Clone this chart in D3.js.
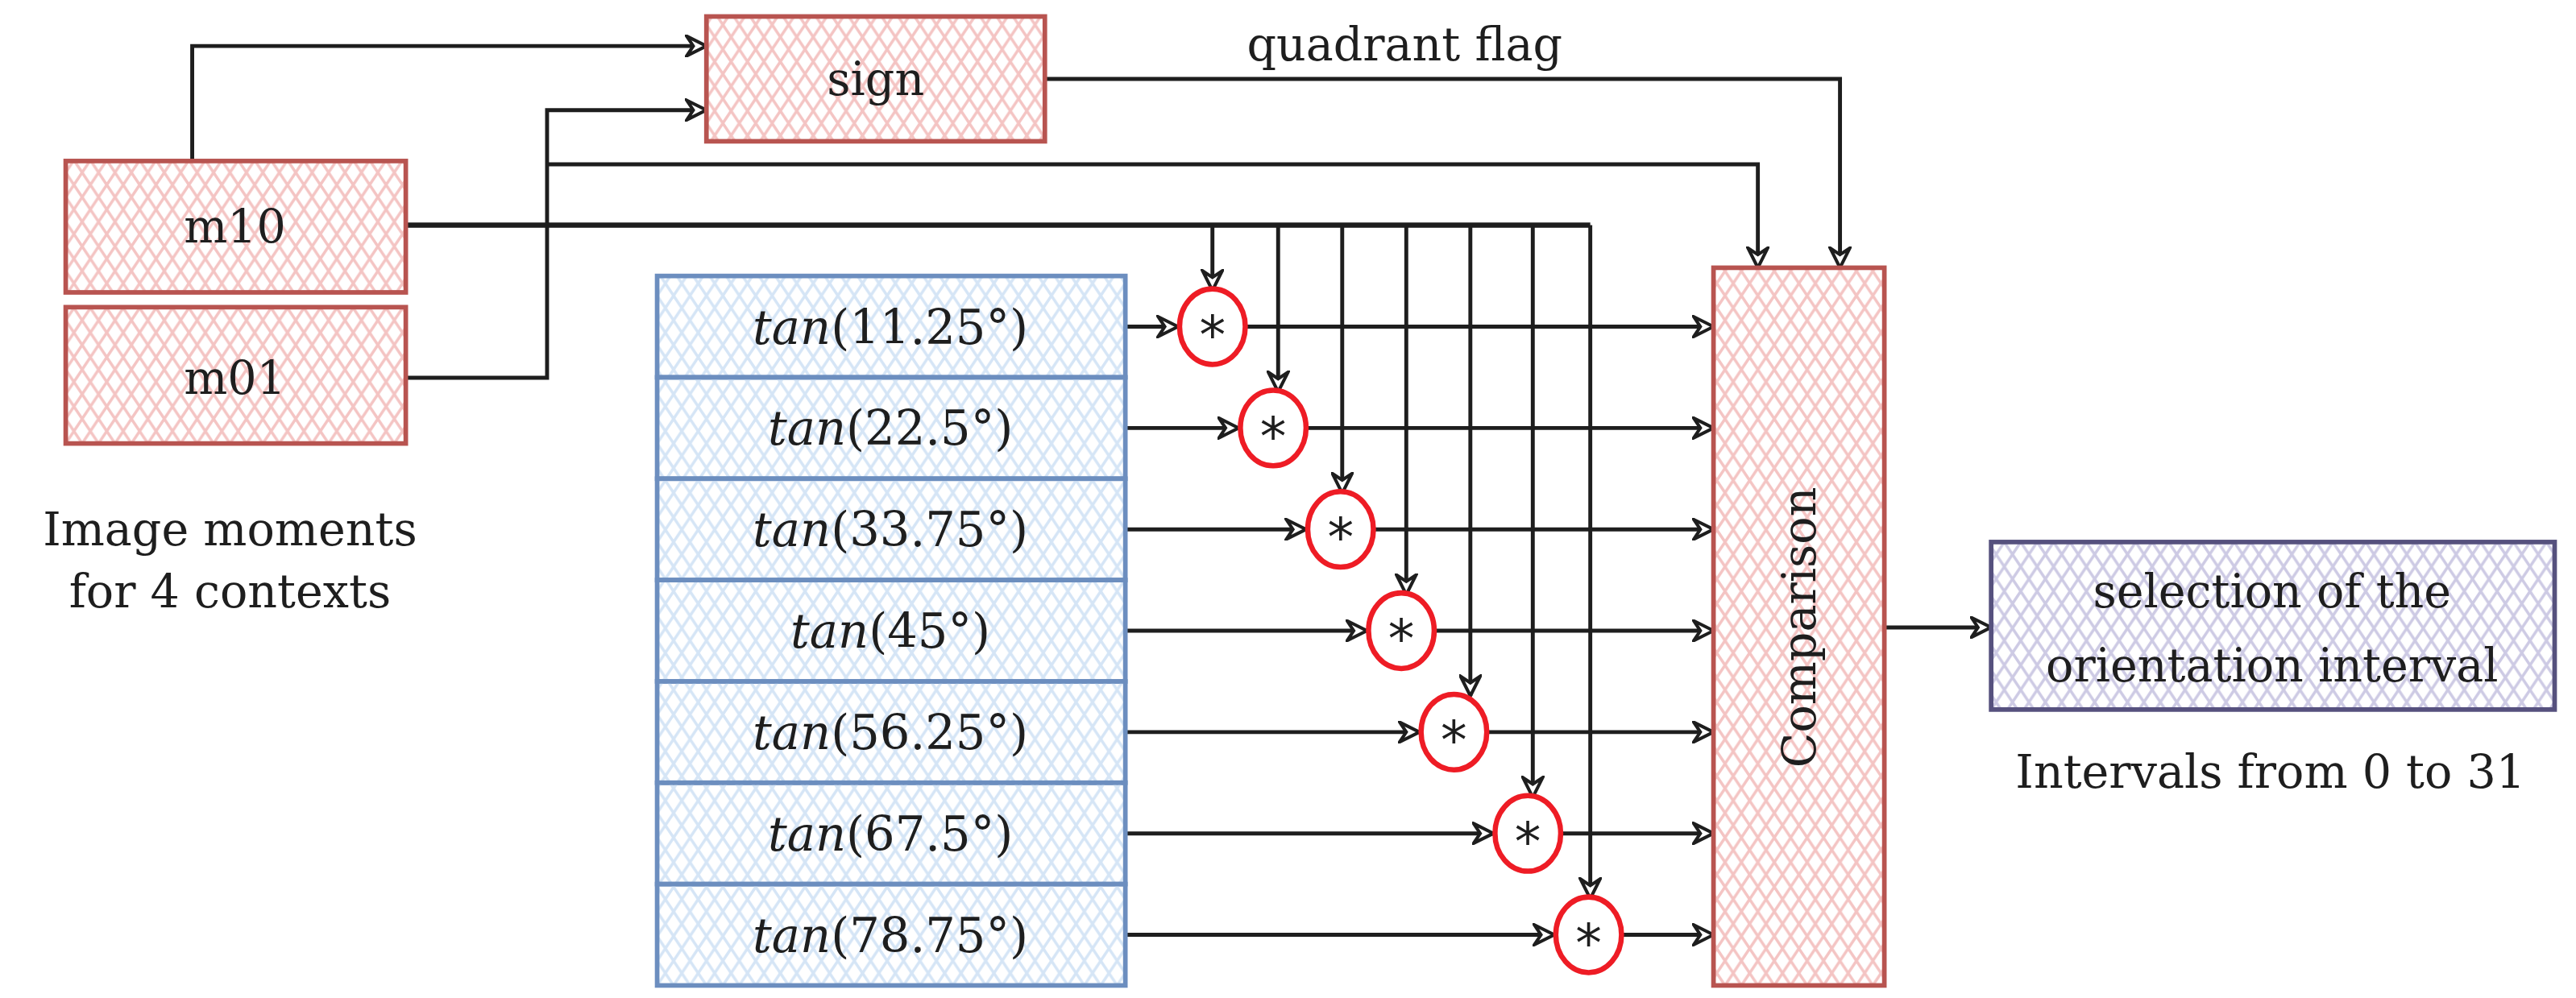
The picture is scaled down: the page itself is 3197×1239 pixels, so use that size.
<!DOCTYPE html>
<html><head><meta charset="utf-8">
<script src="https://cdn.jsdelivr.net/npm/d3@7"></script>
<style>body{margin:0;background:#fff}</style>
</head><body><div id="graph"></div>
<script>
var angles = ["11.25", "22.5", "33.75", "45", "56.25", "67.5", "78.75"];
var circleX = [738, 775, 816, 853, 885, 930, 967];
var dropX = [738, 778, 817, 856, 895, 933, 968];
var labels = { sign: "sign", m10: "m10", m01: "m01", comp: "Comparison", flag: "quadrant flag",
  sel1: "selection of the", sel2: "orientation interval", intervals: "Intervals from 0 to 31",
  mom1: "Image moments", mom2: "for 4 contexts" };

var W = 1568, H = 607.6;
var svg = d3.select("#graph").append("svg")
  .attr("width", 3197).attr("height", 1239)
  .attr("viewBox", "0 0 " + W + " " + H);

var defs = svg.append("defs");
function hatch(id, col) {
  var p = defs.append("pattern").attr("id", id).attr("patternUnits", "userSpaceOnUse")
    .attr("width", 10).attr("height", 15);
  p.append("path").attr("d", "M0,0 L10,15 M10,0 L0,15 M-5,7.5 L0,15 M5,-7.5 L10,0 M-5,7.5 L0,0 M10,15 L15,7.5")
    .attr("stroke", col).attr("stroke-width", 1.7).attr("fill", "none");
}
hatch("hRed", "#f4c4c3");
hatch("hBlue", "#d5e5f6");
hatch("hPur", "#cdcae4");
defs.append("marker").attr("id", "arr").attr("viewBox", "0 0 14 14")
  .attr("refX", 13).attr("refY", 7).attr("markerWidth", 14).attr("markerHeight", 14)
  .attr("markerUnits", "userSpaceOnUse").attr("orient", "auto")
  .append("path").attr("d", "M1,1 L13,7 L1,13 L5,7 Z")
  .attr("fill", "#fff").attr("stroke", "#1e1e1e").attr("stroke-width", 2);

function box(x, y, w, h, fill, stroke) {
  svg.append("rect").attr("x", x).attr("y", y).attr("width", w).attr("height", h)
    .attr("fill", "url(#" + fill + ")").attr("stroke", stroke).attr("stroke-width", 2.8);
}
function text(x, y, t, size, rot) {
  var e = svg.append("text").attr("x", x).attr("y", y).attr("text-anchor", "middle")
    .attr("dominant-baseline", "central").attr("font-family", "DejaVu Serif")
    .attr("font-size", size).attr("fill", "#1e1e1e").text(t);
  if (rot) e.attr("transform", "rotate(" + rot + "," + x + "," + y + ")");
  return e;
}
function line(pts, arrow, w) {
  var l = svg.append("path").attr("d", d3.line()(pts)).attr("fill", "none")
    .attr("stroke", "#1e1e1e").attr("stroke-width", w || 2.4);
  if (arrow) l.attr("marker-end", "url(#arr)");
}

var y = d3.scaleBand().domain(angles).range([168, 600]);
var compL = 1043, compR = 1147;

line([[117, 98], [117, 28], [430, 28]], true);
line([[247, 230], [333, 230], [333, 67], [430, 67]], true);
line([[333, 100], [1070, 100], [1070, 163]], true);
line([[636, 48], [1120, 48], [1120, 163]], true);
line([[247, 137], [968, 137]], false, 3.2);
angles.forEach(function (a, i) {
  var cy = y(a) + y.bandwidth() / 2;
  line([[dropX[i], 137], [dropX[i], cy - 22]], true);
  line([[685, cy], [circleX[i] - 21, cy]], true);
  line([[circleX[i] + 21, cy], [compL, cy]], true);
});
line([[compR, 382], [1212, 382]], true);

box(430, 10, 206, 76, "hRed", "#b85450");
text(533, 48, labels.sign, 28);
text(855, 27, labels.flag, 28);
box(40, 98, 207, 80, "hRed", "#b85450");
text(143, 138, labels.m10, 28);
box(40, 187, 207, 83, "hRed", "#b85450");
text(143, 230, labels.m01, 28);
text(140, 322, labels.mom1, 28);
text(140, 360, labels.mom2, 28);

angles.forEach(function (a) {
  box(400, y(a), 285, y.bandwidth(), "hBlue", "#6c8ebf");
  var t = text(542, y(a) + y.bandwidth() / 2, "", 29);
  t.append("tspan").attr("font-style", "italic").text("tan");
  t.append("tspan").text("(" + a + "°)");
});

angles.forEach(function (a, i) {
  var cy = y(a) + y.bandwidth() / 2;
  svg.append("ellipse").attr("cx", circleX[i]).attr("cy", cy).attr("rx", 20).attr("ry", 23)
    .attr("fill", "#fff").attr("stroke", "#ee1c25").attr("stroke-width", 3.2);
  text(circleX[i], cy + 5, "*", 32).attr("font-family", "DejaVu Sans");
});

box(compL, 163, compR - compL, 437, "hRed", "#b85450");
text((compL + compR) / 2, 382, labels.comp, 28, -90);

box(1212, 330, 343, 102, "hPur", "#56517e");
text(1383, 360, labels.sel1, 28);
text(1383, 405, labels.sel2, 28);
text(1382, 470, labels.intervals, 28);
</script></body></html>
